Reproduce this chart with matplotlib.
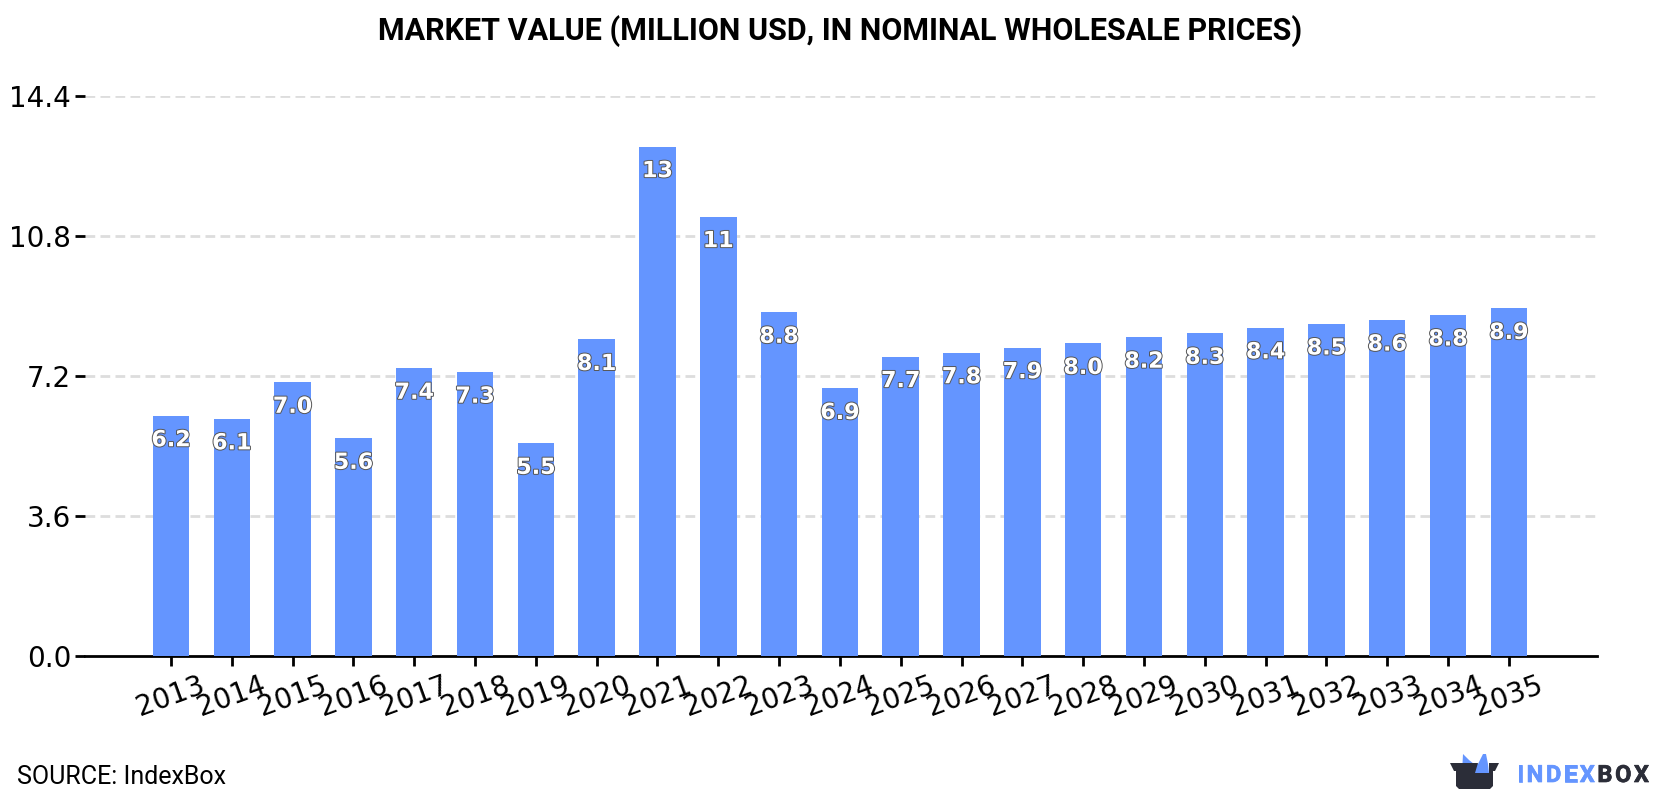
import matplotlib
matplotlib.use('Agg')
import matplotlib.pyplot as plt
import matplotlib.patheffects as pe
from matplotlib.patches import Polygon

years = [2013, 2014, 2015, 2016, 2017, 2018, 2019, 2020, 2021, 2022, 2023, 2024,
         2025, 2026, 2027, 2028, 2029, 2030, 2031, 2032, 2033, 2034, 2035]
values = [6.18, 6.1, 7.04, 5.6, 7.4, 7.3, 5.47, 8.14, 13.1, 11.3, 8.84, 6.88,
          7.7, 7.8, 7.93, 8.04, 8.2, 8.3, 8.44, 8.54, 8.64, 8.77, 8.94]
y_ticks = [0.0, 3.6, 7.2, 10.8, 14.4]

W, H = 1680, 800
BLUE = '#6495ff'
DARK = '#2b2d38'


def px(x, y):
    # pixel position from the top left corner to figure fraction
    return x / W, 1 - y / H


def fmt(v):
    return f'{v:.0f}' if v >= 10 else f'{v:.1f}'


def spaced_text(fig, x, y, word, color, gap):
    # one letter at a time, the logo lettering is wider than the font
    for ch in word:
        fx, fy = px(x, y)
        t = fig.text(fx, fy, ch, color=color, fontsize=17, fontweight='bold', family='Roboto',
                     ha='left', va='baseline',
                     path_effects=[pe.withStroke(linewidth=0.5, foreground=color)])
        fig.canvas.draw()
        x = t.get_window_extent().x1 + gap
    return x


def draw_logo(fig):
    crown = [(1462, 773), (1463, 754), (1469, 760), (1474, 764), (1478, 764), (1483, 754),
             (1486, 754), (1488, 764), (1489, 773), (1476, 773), (1474, 773)]
    box = [(1450, 763), (1476, 763), (1478, 763), (1475, 773), (1489, 773), (1489, 763), (1499, 763),
           (1495, 771), (1493, 771), (1493, 786), (1490, 789), (1459, 789), (1456, 786),
           (1456, 771), (1454, 771)]
    fig.add_artist(Polygon([px(*p) for p in crown], closed=True, color=BLUE, lw=0,
                           transform=fig.transFigure))
    fig.add_artist(Polygon([px(*p) for p in box], closed=True, color=DARK, lw=0,
                           transform=fig.transFigure))
    x = spaced_text(fig, 1517, 782, 'INDEX', BLUE, 2.6)
    spaced_text(fig, x, 782, 'BOX', DARK, 2.6)


fig = plt.figure(figsize=(W / 100, H / 100), dpi=100)
left, bottom = px(85, 656)
right, top = px(1597, 96)
ax = fig.add_axes([left, bottom, right - left, top - bottom])

pos = list(range(len(years)))
ax.bar(pos, values, width=0.6, color=BLUE, zorder=3)
ax.set_xlim(-1.414, 23.45)
ax.set_ylim(0, 14.4)
ax.set_yticks(y_ticks)
ax.set_yticklabels([f'{v:.1f}' for v in y_ticks], fontsize=20)
ax.set_xticks(pos)
ax.set_xticklabels(years, fontsize=20, rotation=20)
ax.tick_params(axis='y', length=7, width=2, pad=3)
ax.tick_params(axis='x', length=7, width=2, pad=4)
ax.yaxis.grid(True, color='#dddddd', lw=2, ls=(0, (3.5, 1.9)), zorder=0)
ax.set_axisbelow(True)
for g in ax.get_ygridlines()[:1]:
    g.set_visible(False)
for s in ['top', 'right', 'left']:
    ax.spines[s].set_visible(False)
ax.spines['bottom'].set_linewidth(2)

for p, v in zip(pos, values):
    ax.annotate(fmt(v), (p, v), xytext=(0, -10.5), textcoords='offset points', ha='center', va='top',
                fontsize=16, fontweight='bold', color='white', zorder=5,
                path_effects=[pe.withStroke(linewidth=1.4, foreground='#555555')])

x, y = px(840, 31)
fig.text(x, y, 'MARKET VALUE (MILLION USD, IN NOMINAL WHOLESALE PRICES)', family='Roboto',
         fontweight='bold', fontsize=22, ha='center', va='center', color='black')
x, y = px(17, 784)
fig.text(x, y, 'SOURCE: IndexBox', family='Roboto', fontsize=18, ha='left', va='baseline', color='black')
draw_logo(fig)

fig.savefig('out.png', dpi=100)
